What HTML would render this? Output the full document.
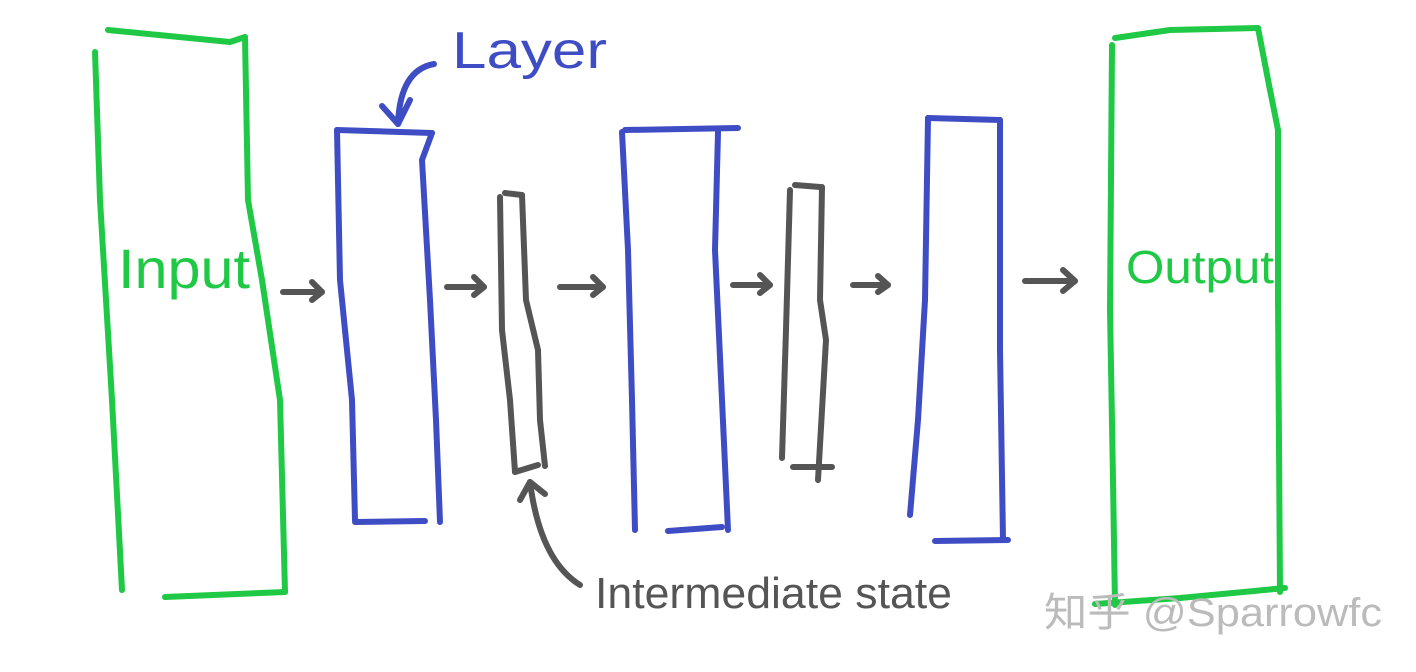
<!DOCTYPE html>
<html><head><meta charset="utf-8"><style>
html,body{margin:0;padding:0;background:#fff;width:1416px;height:672px;overflow:hidden}
svg{display:block}
</style></head><body>
<svg width="1416" height="672" viewBox="0 0 1416 672" xmlns="http://www.w3.org/2000/svg">
<g fill="none" stroke-linecap="round" stroke-linejoin="round">
<g stroke="#1fc845" stroke-width="6">
<polyline points="95,52 100,200 112,400 122,590"/>
<polyline points="108,30 230,42 245,37"/>
<polyline points="245,37 248,200 262,280 280,400 285,592"/>
<polyline points="165,597 285,592"/>
<polyline points="1112,45 1110,310 1113,480 1115,605"/>
<polyline points="1115,38 1170,30 1258,28"/>
<polyline points="1258,28 1270,90 1278,130 1278,300 1280,592"/>
<polyline points="1095,604 1180,598 1285,588"/>
</g>
<g stroke="#3f4dc4" stroke-width="6">
<polyline points="337,130 432,133"/>
<polyline points="337,130 340,280 352,400 355,520"/>
<polyline points="355,522 425,521"/>
<polyline points="432,133 422,160 430,300 436,420 440,522"/>
<polyline points="625,130 738,128"/>
<polyline points="622,132 628,250 632,400 635,530"/>
<polyline points="668,531 722,527"/>
<polyline points="718,132 715,250 722,400 728,530"/>
<polyline points="928,118 1000,120"/>
<polyline points="928,118 925,300 918,420 910,515"/>
<polyline points="1000,120 1000,350 1003,540"/>
<polyline points="935,541 1008,540"/>
<path d="M434,64 Q400,70 398,124"/>
<polyline points="382,106 398,124 410,100"/>
</g>
<g stroke="#555" stroke-width="6">
<polyline points="500,197 502,330 510,400 515,472"/>
<polyline points="505,193 522,195"/>
<polyline points="522,195 526,300 538,350 540,420 545,466"/>
<polyline points="515,472 538,465"/>
<polyline points="790,190 786,330 782,458"/>
<polyline points="795,185 820,187"/>
<polyline points="822,187 820,300 826,340 818,480"/>
<polyline points="793,467 832,467"/>
<path d="M580,585 Q540,560 530,482"/>
<polyline points="520,500 530,482 545,494"/>
<line x1="283" y1="292" x2="322" y2="292"/><polyline points="312,282 322,292 312,300"/>
<line x1="447" y1="287" x2="484" y2="287"/><polyline points="474,277 484,287 474,295"/>
<line x1="560" y1="287" x2="603" y2="287"/><polyline points="593,277 603,287 593,295"/>
<line x1="733" y1="285" x2="770" y2="285"/><polyline points="760,275 770,285 760,293"/>
<line x1="853" y1="285" x2="888" y2="285"/><polyline points="878,276 888,285 878,292"/>
<line x1="1025" y1="281" x2="1075" y2="281"/><polyline points="1063,270 1075,281 1063,291"/>
</g>
</g>
<text x="118" y="288" font-family="Liberation Sans, sans-serif" font-size="56" fill="#1fc845" textLength="132" lengthAdjust="spacingAndGlyphs">Input</text>
<text x="1126" y="283" font-family="Liberation Sans, sans-serif" font-size="46" fill="#1fc845" textLength="148" lengthAdjust="spacingAndGlyphs">Output</text>
<text x="452" y="68" font-family="Liberation Sans, sans-serif" font-size="52" fill="#3f4dc4" textLength="155" lengthAdjust="spacingAndGlyphs">Layer</text>
<text x="595" y="608" font-family="Liberation Sans, sans-serif" font-size="44" fill="#555" textLength="357" lengthAdjust="spacingAndGlyphs">Intermediate state</text>
<text x="1044" y="626" font-family="Liberation Sans, 'Noto Sans CJK SC', sans-serif" font-size="40" fill="#bbb" textLength="338" lengthAdjust="spacingAndGlyphs">知乎 @Sparrowfc</text>
</svg>
</body></html>
